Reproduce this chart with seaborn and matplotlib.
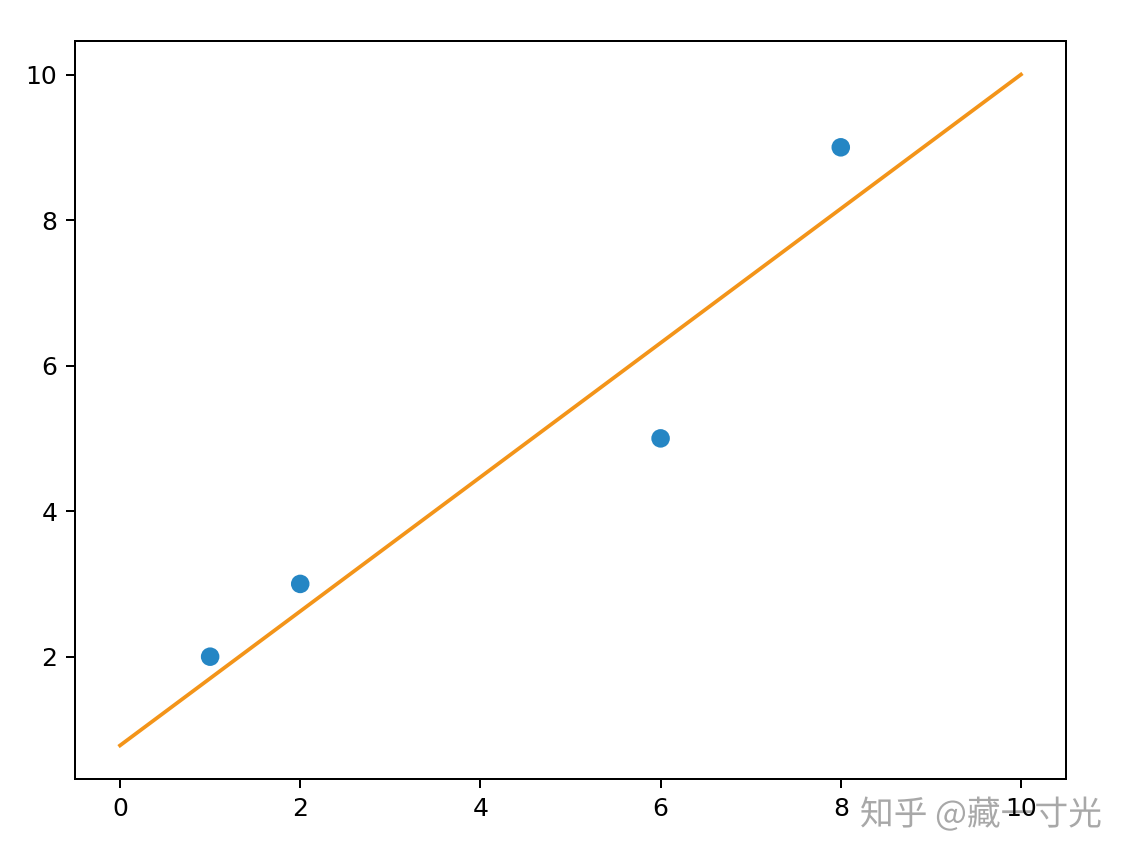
import matplotlib
matplotlib.use("Agg")
import matplotlib.pyplot as plt
import matplotlib.patheffects as pe
import seaborn as sns

# data points
x_pts = [1, 2, 6, 8]
y_pts = [2, 3, 5, 9]

# fitted line
line_x = [0, 10]
line_y = [0.78, 10.0]

plt.rcParams['font.family'] = ['DejaVu Sans']

fig, ax = plt.subplots(figsize=(1133 / 180, 860 / 180), dpi=180)
sns.scatterplot(x=x_pts, y=y_pts, ax=ax, s=55, color='#2586c4', edgecolor='none', zorder=3)
sns.lineplot(x=line_x, y=line_y, ax=ax, color='#f39419', linewidth=1.5)

ax.set_xticks([0, 2, 4, 6, 8, 10])
ax.set_yticks([2, 4, 6, 8, 10])
ax.margins(0.05)

fig.subplots_adjust(left=75 / 1133, right=1066 / 1133, top=1 - 41 / 860, bottom=1 - 779 / 860)

# watermark, drawn under the tick labels
fig.text(0.759, 0.052, '知乎 @藏一寸光', fontsize=13.5, color='#a8a8a8',
         family=['Noto Sans CJK SC', 'DejaVu Sans'], ha='left', va='center', zorder=-1,
         path_effects=[pe.withStroke(linewidth=2, foreground='white')])

fig.savefig('out.png', dpi=180)
